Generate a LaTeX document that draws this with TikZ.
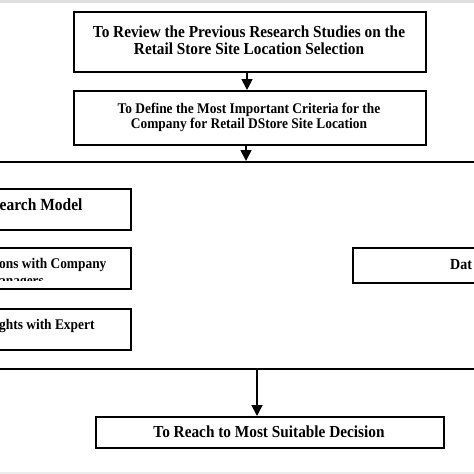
\documentclass[tikz,border=0pt]{standalone}
\usepackage{fontspec}
\setmainfont{Liberation Serif}
\usetikzlibrary{arrows.meta,calc}
\newcommand{\tall}[1]{\scalebox{1}[1.1]{#1}}
\begin{document}
\begin{tikzpicture}[x=1pt,y=-1pt,
  box/.style={draw=black,line width=1.8pt,fill=white,rectangle,inner sep=0pt,anchor=north west,align=center,font=\bfseries},
  arr/.style={line width=1.7pt,-{Triangle[width=11pt,length=11pt]}},
  lbl/.style={anchor=base west,inner sep=0pt,font=\bfseries}]
\useasboundingbox (0,0) rectangle (474,474);
\clip (0,0) rectangle (474,474);
\fill[white] (0,0) rectangle (474,474);
\fill[gray!25] (0,0) rectangle (474,2.5);
\fill[gray!15] (0,471.7) rectangle (474,474);
% top boxes
\node[box,minimum width=352pt,minimum height=60pt] (rev) at (73,11) {};
\node[font=\bfseries\fontsize{15.3}{17}\selectfont,inner sep=0pt] at (249,42) {\tall{\begin{tabular}{@{}c@{}}To Review the Previous Research Studies on the\\[-1.5pt]Retail Store Site Location Selection\end{tabular}}};
\node[box,minimum width=352pt,minimum height=54pt] (crit) at (73,90) {};
\node[font=\bfseries\fontsize{13.4}{16}\selectfont,inner sep=0pt] at (249,117.5) {\tall{\begin{tabular}{@{}c@{}}To Define the Most Important Criteria for the\\[-1.5pt]Company for Retail DStore Site Location\end{tabular}}};
% big frame
\node[box,minimum width=500pt,minimum height=207pt] (frame) at (-10,161) {};
% left boxes
\node[box,minimum width=140pt,minimum height=41pt] (l1) at (-10,188) {};
\node[lbl,font=\bfseries\fontsize{15.5}{17}\selectfont] at (-0.5,210) {\tall{earch Model}};
\node[box,minimum width=140pt,minimum height=41pt] (l2) at (-10,247) {};
\node[lbl,font=\bfseries\fontsize{13.4}{17}\selectfont] at (-1,268) {\tall{ons with Company}};
\begin{scope}
\clip (0,270) rectangle (129,280.5);
\node[lbl,font=\bfseries\fontsize{13.4}{17}\selectfont] at (-1,285) {\tall{anagers}};
\end{scope}
\node[box,minimum width=140pt,minimum height=41pt] (l3) at (-10,308) {};
\node[lbl,font=\bfseries\fontsize{13.4}{17}\selectfont] at (-1,329) {\tall{ghts with Expert}};
% right box
\node[box,minimum width=140pt,minimum height=35pt] (r1) at (352,247) {};
\node[lbl,font=\bfseries\fontsize{14}{17}\selectfont] at (450,269) {\tall{Dat}};
% bottom box
\node[box,minimum width=348pt,minimum height=31pt] (dec) at (95,416) {};
\node[font=\bfseries\fontsize{15.3}{17}\selectfont,inner sep=0pt] at (269,432) {\tall{To Reach to Most Suitable Decision}};
% arrows
\coordinate (a1) at (247,0);
\coordinate (a2) at (246,0);
\coordinate (a3) at (257,0);
\draw[arr] (rev.south -| a1) -- (crit.north -| a1);
\draw[arr] (crit.south -| a2) -- (frame.north -| a2);
\draw[arr] (frame.south -| a3) -- (dec.north -| a3);
\end{tikzpicture}
\end{document}
